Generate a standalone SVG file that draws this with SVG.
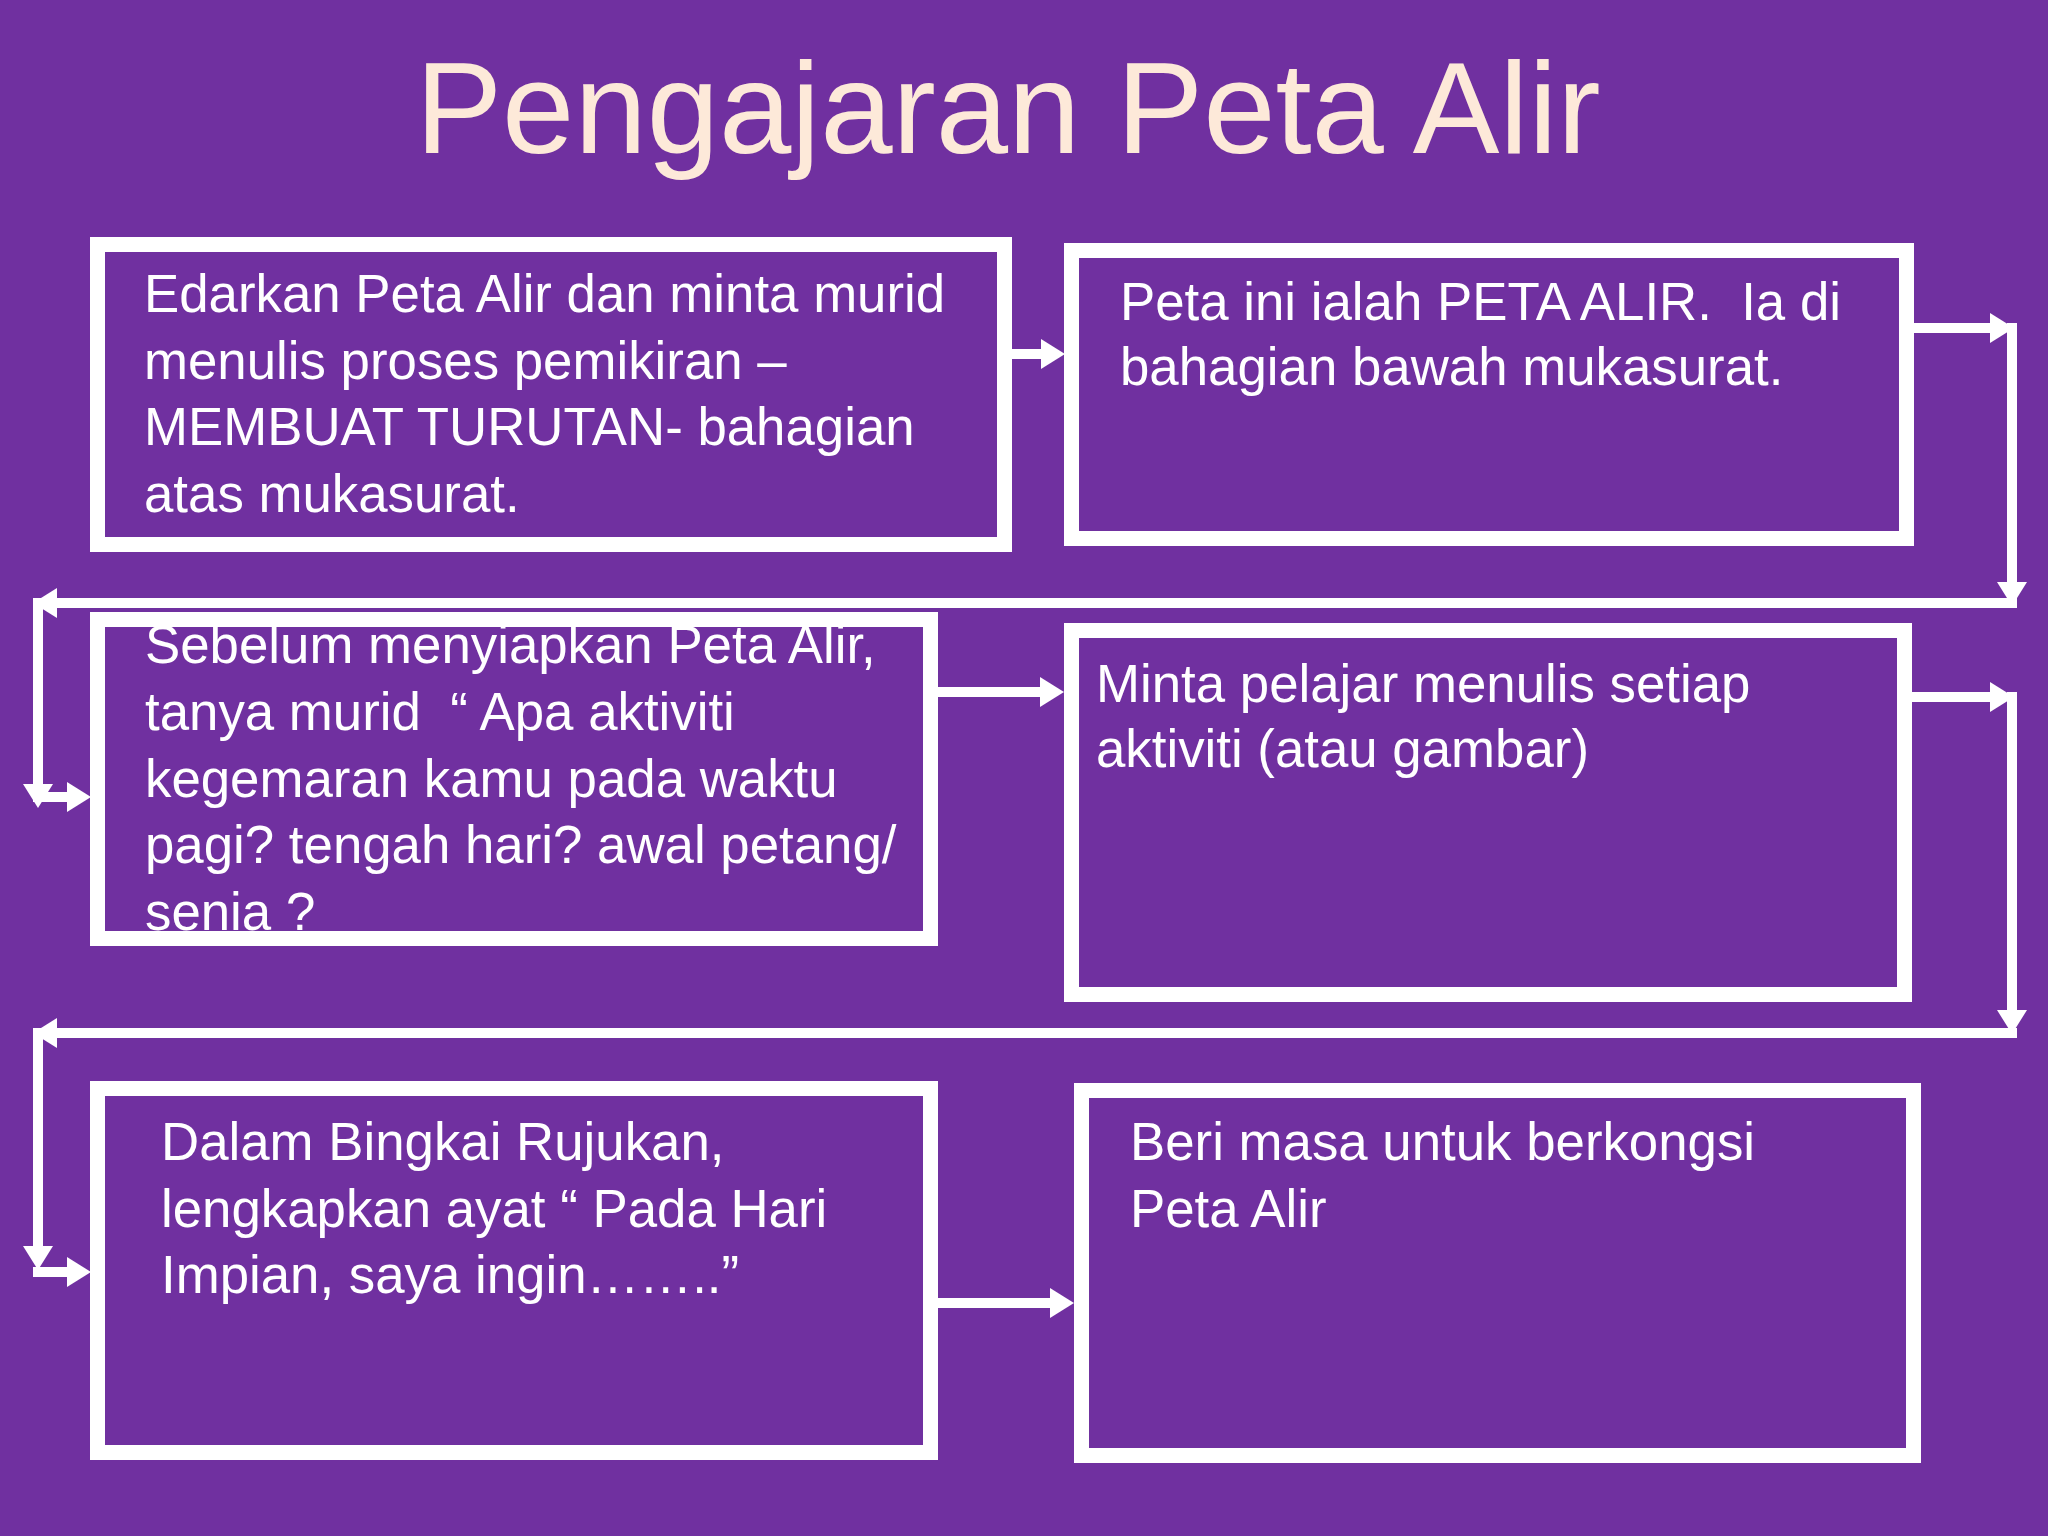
<svg xmlns="http://www.w3.org/2000/svg" width="2048" height="1536" viewBox="0 0 2048 1536">
  <style>
    .bg { fill: #7030A0; }
    .box { fill: #7030A0; stroke: #FFFFFF; stroke-width: 15; }
    .txt { font-family: "Liberation Sans", Arial, sans-serif; font-size: 52.8px; fill: #FFFFFF; }
    .title { font-family: "Liberation Sans", Arial, sans-serif; font-size: 130px; fill: #FDE9D9; }
    .conn { stroke: #FFFFFF; stroke-width: 10; fill: none; marker-end: url(#arrow); }
  </style>
  <defs>
    <marker id="arrow" markerUnits="userSpaceOnUse" markerWidth="26" markerHeight="32" refX="13" refY="16" orient="auto">
      <path d="M0,1 L24,16 L0,31 Z" fill="#FFFFFF"/>
    </marker>
  </defs>
  <rect class="bg" x="0" y="0" width="2048" height="1536"/>
  <text class="title" x="1008" y="153" text-anchor="middle">Pengajaran Peta Alir</text>

  <g id="connectors">
    <line class="conn" x1="1012" y1="354" x2="1054" y2="354"/>
    <line class="conn" x1="1914" y1="328" x2="2003" y2="328"/>
    <line class="conn" x1="2012" y1="323" x2="2012" y2="595"/>
    <line class="conn" x1="2017" y1="603" x2="44" y2="603"/>
    <line class="conn" x1="38" y1="598" x2="38" y2="797"/>
    <line class="conn" x1="33" y1="797" x2="80" y2="797"/>
    <line class="conn" x1="938" y1="692" x2="1053" y2="692"/>
    <line class="conn" x1="1912" y1="697" x2="2003" y2="697"/>
    <line class="conn" x1="2012" y1="692" x2="2012" y2="1023"/>
    <line class="conn" x1="2017" y1="1033" x2="44" y2="1033"/>
    <line class="conn" x1="38" y1="1028" x2="38" y2="1259"/>
    <line class="conn" x1="33" y1="1272" x2="80" y2="1272"/>
    <line class="conn" x1="938" y1="1303" x2="1063" y2="1303"/>
  </g>

  <g id="node1">
    <rect class="box" x="97.5" y="244.5" width="907" height="300"/>
    <text class="txt" x="144" y="312">Edarkan Peta Alir dan minta murid</text>
    <text class="txt" x="144" y="378.5">menulis proses pemikiran –</text>
    <text class="txt" x="144" y="445">MEMBUAT TURUTAN- bahagian</text>
    <text class="txt" x="144" y="511.5">atas mukasurat.</text>
  </g>

  <g id="node2">
    <rect class="box" x="1071.5" y="250.5" width="835" height="288"/>
    <text class="txt" x="1120" y="320" xml:space="preserve">Peta ini ialah PETA ALIR.  Ia di</text>
    <text class="txt" x="1120" y="385">bahagian bawah mukasurat.</text>
  </g>

  <g id="node3">
    <rect class="box" x="97.5" y="619.5" width="833" height="319"/>
    <text class="txt" x="145" y="663">Sebelum menyiapkan Peta Alir,</text>
    <text class="txt" x="145" y="730" xml:space="preserve">tanya murid  “ Apa aktiviti</text>
    <text class="txt" x="145" y="797">kegemaran kamu pada waktu</text>
    <text class="txt" x="145" y="863">pagi? tengah hari? awal petang/</text>
    <text class="txt" x="145" y="930">senia ?</text>
  </g>

  <g id="node4">
    <rect class="box" x="1071.5" y="630.5" width="833" height="364"/>
    <text class="txt" x="1096" y="702">Minta pelajar menulis setiap</text>
    <text class="txt" x="1096" y="767">aktiviti (atau gambar)</text>
  </g>

  <g id="node5">
    <rect class="box" x="97.5" y="1088.5" width="833" height="364"/>
    <text class="txt" x="161" y="1160">Dalam Bingkai Rujukan,</text>
    <text class="txt" x="161" y="1227">lengkapkan ayat “ Pada Hari</text>
    <text class="txt" x="161" y="1293">Impian, saya ingin……..”</text>
  </g>

  <g id="node6">
    <rect class="box" x="1081.5" y="1090.5" width="832" height="365"/>
    <text class="txt" x="1130" y="1160">Beri masa untuk berkongsi</text>
    <text class="txt" x="1130" y="1227">Peta Alir</text>
  </g>
</svg>
